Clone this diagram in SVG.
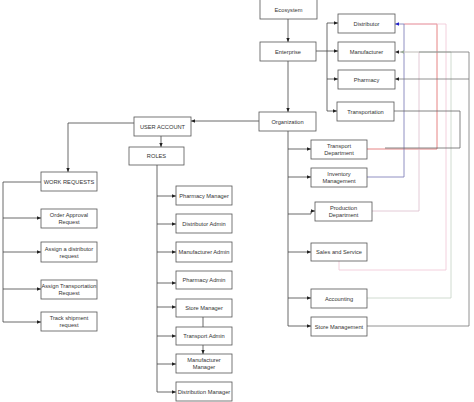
<svg xmlns="http://www.w3.org/2000/svg" width="474" height="402" viewBox="0 0 474 402">
<style>
.n rect{fill:#fff;stroke:#555;stroke-width:0.8}
.n text{font-family:"Liberation Sans",Arial,sans-serif;font-size:5.7px;fill:#333;text-anchor:middle;dominant-baseline:central}
#c path{fill:none;stroke:#444;stroke-width:0.8}
</style>
<defs>
<marker id="a" markerUnits="userSpaceOnUse" markerWidth="4" markerHeight="4" refX="4" refY="2" orient="auto"><path d="M0,0.3L4,2L0,3.7z" fill="#222"/></marker>
<marker id="ab" markerUnits="userSpaceOnUse" markerWidth="4" markerHeight="4" refX="4" refY="2" orient="auto"><path d="M0,0.3L4,2L0,3.7z" fill="#2222cc"/></marker>
<marker id="ag" markerUnits="userSpaceOnUse" markerWidth="4" markerHeight="4" refX="4" refY="2" orient="auto"><path d="M0,0.3L4,2L0,3.7z" fill="#99aa99"/></marker>
</defs>
<rect width="474" height="402" fill="#fff"/>
<g id="c">
<path d="M288,19V42" marker-end="url(#a)"/>
<path d="M288,61V112" marker-end="url(#a)"/>
<path d="M316,51H338" marker-end="url(#a)"/>
<path d="M327,51V23H338" marker-end="url(#a)"/>
<path d="M327,51V79H338" marker-end="url(#a)"/>
<path d="M327,79V111H337" marker-end="url(#a)"/>
<path d="M288,131V149H311" marker-end="url(#a)"/>
<path d="M288,149V177H311" marker-end="url(#a)"/>
<path d="M288,177V214H311V211H315" marker-end="url(#a)"/>
<path d="M288,214V252H311" marker-end="url(#a)"/>
<path d="M288,252V298H311" marker-end="url(#a)"/>
<path d="M288,298V326H311" marker-end="url(#a)"/>
<path d="M259,121H191" marker-end="url(#a)"/>
<path d="M161,136V147" marker-end="url(#a)"/>
<path d="M134,123H68V172" marker-end="url(#a)"/>
<path d="M41,182H3V218H41" marker-end="url(#a)"/>
<path d="M3,218V252H41" marker-end="url(#a)"/>
<path d="M3,252V289H41" marker-end="url(#a)"/>
<path d="M3,289V322H41" marker-end="url(#a)"/>
<path d="M157,165V196H176" marker-end="url(#a)"/>
<path d="M157,196V224H176" marker-end="url(#a)"/>
<path d="M157,224V252H176" marker-end="url(#a)"/>
<path d="M157,252V283H176" marker-end="url(#a)"/>
<path d="M157,283V307H176" marker-end="url(#a)"/>
<path d="M157,307V336H176" marker-end="url(#a)"/>
<path d="M157,336V364H176" marker-end="url(#a)"/>
<path d="M157,364V392H176" marker-end="url(#a)"/>
<path d="M203,317V354" marker-end="url(#a)"/>
<path d="M367,149H437V24H404" style="stroke:#e06666"/>
<path d="M339,261V270H446V24H404" style="stroke:#f0c4d4"/>
<path d="M367,177H404V24H395" style="stroke:#7373b3" marker-end="url(#ab)"/>
<path d="M372,211H419V52H395" style="stroke:#dcbccc" marker-end="url(#a)"/>
<path d="M367,298H451V52H400" style="stroke:#c4d2c4" marker-end="url(#ag)"/>
<path d="M367,326H469V52H419" style="stroke:#777"/>
<path d="M469,79H395" style="stroke:#777" marker-end="url(#a)"/>
<path d="M394,111H460V148H385" style="stroke:#666"/>
</g>
<g id="ecosystem" class="n"><rect x="260" y="-1" width="57" height="20"/><text x="288.5" y="10">Ecosystem</text></g>
<g id="enterprise" class="n"><rect x="260" y="42" width="56" height="19"/><text x="288" y="51.5">Enterprise</text></g>
<g id="organization" class="n"><rect x="259" y="112" width="57" height="19"/><text x="287.5" y="121.5">Organization</text></g>
<g id="distributor" class="n"><rect x="338" y="14" width="57" height="19"/><text x="366.5" y="23.5">Distributor</text></g>
<g id="manufacturer" class="n"><rect x="338" y="42" width="57" height="19"/><text x="366.5" y="51.5">Manufacturer</text></g>
<g id="pharmacy" class="n"><rect x="338" y="70" width="57" height="19"/><text x="366.5" y="79.5">Pharmacy</text></g>
<g id="transportation" class="n"><rect x="337" y="102" width="57" height="19"/><text x="365.5" y="111.5">Transportation</text></g>
<g id="transport-department" class="n"><rect x="311" y="140" width="56" height="19"/><text x="339" y="146">Transport</text><text x="339" y="153">Department</text></g>
<g id="inventory-management" class="n"><rect x="311" y="168" width="56" height="19"/><text x="339" y="174">Inventory</text><text x="339" y="181">Management</text></g>
<g id="production-department" class="n"><rect x="315" y="202" width="57" height="19"/><text x="343.5" y="208">Production</text><text x="343.5" y="215">Department</text></g>
<g id="sales-and-service" class="n"><rect x="311" y="243" width="56" height="18"/><text x="339" y="252">Sales and Service</text></g>
<g id="accounting" class="n"><rect x="311" y="289" width="56" height="19"/><text x="339" y="298.5">Accounting</text></g>
<g id="store-management" class="n"><rect x="311" y="317" width="56" height="19"/><text x="339" y="326.5">Store Management</text></g>
<g id="user-account" class="n"><rect x="134" y="117" width="57" height="19"/><text x="162.5" y="126.5">USER ACCOUNT</text></g>
<g id="roles" class="n"><rect x="129" y="147" width="55" height="18"/><text x="156.5" y="156">ROLES</text></g>
<g id="work-requests" class="n"><rect x="41" y="172" width="56" height="19"/><text x="69" y="181.5">WORK REQUESTS</text></g>
<g id="order-approval-request" class="n"><rect x="41" y="209" width="56" height="19"/><text x="69" y="215">Order Approval</text><text x="69" y="222">Request</text></g>
<g id="assign-distributor-request" class="n"><rect x="41" y="242" width="56" height="20"/><text x="69" y="248.5">Assign a distributor</text><text x="69" y="255.5">request</text></g>
<g id="assign-transportation-request" class="n"><rect x="41" y="280" width="56" height="19"/><text x="69" y="286">Assign Transportation</text><text x="69" y="293">Request</text></g>
<g id="track-shipment-request" class="n"><rect x="41" y="312" width="56" height="19"/><text x="69" y="318">Track shipment</text><text x="69" y="325">request</text></g>
<g id="pharmacy-manager" class="n"><rect x="176" y="186" width="56" height="19"/><text x="204" y="195.5">Pharmacy Manager</text></g>
<g id="distributor-admin" class="n"><rect x="176" y="214" width="56" height="19"/><text x="204" y="223.5">Distributor Admin</text></g>
<g id="manufacturer-admin" class="n"><rect x="176" y="242" width="56" height="20"/><text x="204" y="252">Manufacturer Admin</text></g>
<g id="pharmacy-admin" class="n"><rect x="176" y="271" width="56" height="18"/><text x="204" y="280">Pharmacy Admin</text></g>
<g id="store-manager" class="n"><rect x="176" y="299" width="56" height="18"/><text x="204" y="308">Store Manager</text></g>
<g id="transport-admin" class="n"><rect x="176" y="327" width="56" height="18"/><text x="204" y="336">Transport Admin</text></g>
<g id="manufacturer-manager" class="n"><rect x="176" y="354" width="56" height="19"/><text x="204" y="360">Manufacturer</text><text x="204" y="367">Manager</text></g>
<g id="distribution-manager" class="n"><rect x="176" y="382" width="56" height="19"/><text x="204" y="391.5">Distribution Manager</text></g>
</svg>
